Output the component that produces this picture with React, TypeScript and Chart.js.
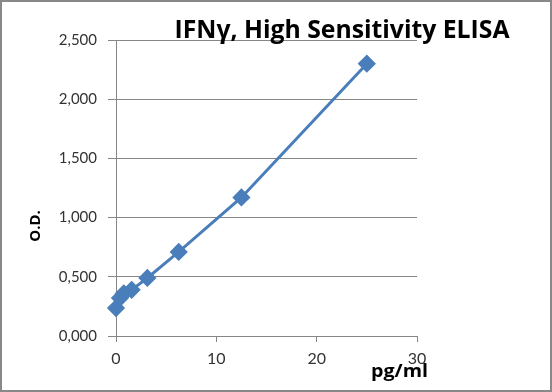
import React, { useEffect, useRef } from "react";
import { Chart, registerables } from "chart.js";

Chart.register(...registerables);

const concentrations = [0, 0.39, 0.78, 1.56, 3.125, 6.25, 12.5, 25];
const odValues = [0.236, 0.32, 0.36, 0.39, 0.49, 0.71, 1.17, 2.3];
const titleText = "IFNγ, High Sensitivity ELISA";
const xTitle = "pg/ml";
const yTitle = "O.D.";

const FONT = "Lato, 'Liberation Sans', sans-serif";
const BOLD_FONT = "'Open Sans', Lato, sans-serif";

const overlayPlugin = {
  id: "overlay",
  afterDraw(chart: any) {
    const ctx = chart.ctx as CanvasRenderingContext2D;
    ctx.save();
    // title
    ctx.fillStyle = "#000";
    let size = 24;
    ctx.font = `bold ${size}px ${BOLD_FONT}`;
    const w = ctx.measureText(titleText).width;
    size = (size * 335) / w;
    ctx.font = `bold ${size}px ${BOLD_FONT}`;
    ctx.textAlign = "center";
    ctx.textBaseline = "alphabetic";
    ctx.fillText(titleText, 340, 36);
    // x title
    ctx.font = `bold 17px ${BOLD_FONT}`;
    ctx.textAlign = "left";
    const xw = ctx.measureText(xTitle).width;
    ctx.save();
    ctx.translate(369, 375);
    ctx.scale(57 / xw, 1);
    ctx.fillText(xTitle, 0, 0);
    ctx.restore();
    // y title
    ctx.translate(34, 224);
    ctx.rotate(-Math.PI / 2);
    ctx.textAlign = "center";
    ctx.textBaseline = "middle";
    ctx.font = `bold 15px ${BOLD_FONT}`;
    ctx.fillText(yTitle, 0, 0);
    ctx.restore();
  },
};

export default function App() {
  const ref = useRef<HTMLCanvasElement | null>(null);
  useEffect(() => {
    if (!ref.current) return;
    const chart = new Chart(ref.current, {
      type: "scatter",
      data: {
        datasets: [
          {
            data: concentrations.map((x, i) => ({ x, y: odValues[i] })),
            showLine: true,
            clip: false,
            borderColor: "#4A7EBB",
            backgroundColor: "#4A7EBB",
            borderWidth: 3,
            pointStyle: "rectRot",
            pointRadius: 7,
            pointHoverRadius: 7,
          },
        ],
      },
      options: {
        responsive: false,
        animation: false,
        layout: { padding: { left: 0, right: 133, top: 38, bottom: 0 } },
        plugins: { legend: { display: false }, tooltip: { enabled: false }, title: { display: false } },
        scales: {
          x: {
            type: "linear",
            min: 0,
            max: 30,
            ticks: { stepSize: 10, color: "#333", font: { family: FONT, size: 16 }, padding: 7, maxRotation: 0 },
            grid: { drawOnChartArea: false, drawTicks: true, tickLength: 6, color: "#868686" },
            border: { color: "#868686", width: 1 },
            afterFit: (s: any) => { s.height = 54; },
          },
          y: {
            type: "linear",
            min: 0,
            max: 2.5,
            ticks: {
              stepSize: 0.5,
              color: "#333",
              font: { family: FONT, size: 15 },
              padding: 11,
              callback: (v: any) => Number(v).toFixed(3).replace(".", ","),
            },
            grid: { color: "#868686", tickLength: 8, drawTicks: true },
            border: { color: "#868686", width: 1 },
            afterFit: (s: any) => { s.width = 114; },
          },
        },
      },
      plugins: [overlayPlugin],
    });
    return () => chart.destroy();
  }, []);
  return (
    <div
      style={{
        position: "fixed",
        left: 0,
        top: 0,
        width: 552,
        height: 392,
        boxSizing: "border-box",
        border: "2px solid #888",
        background: "#fff",
      }}
    >
      <canvas ref={ref} width={548} height={388} style={{ display: "block", width: 548, height: 388 }} />
    </div>
  );
}
